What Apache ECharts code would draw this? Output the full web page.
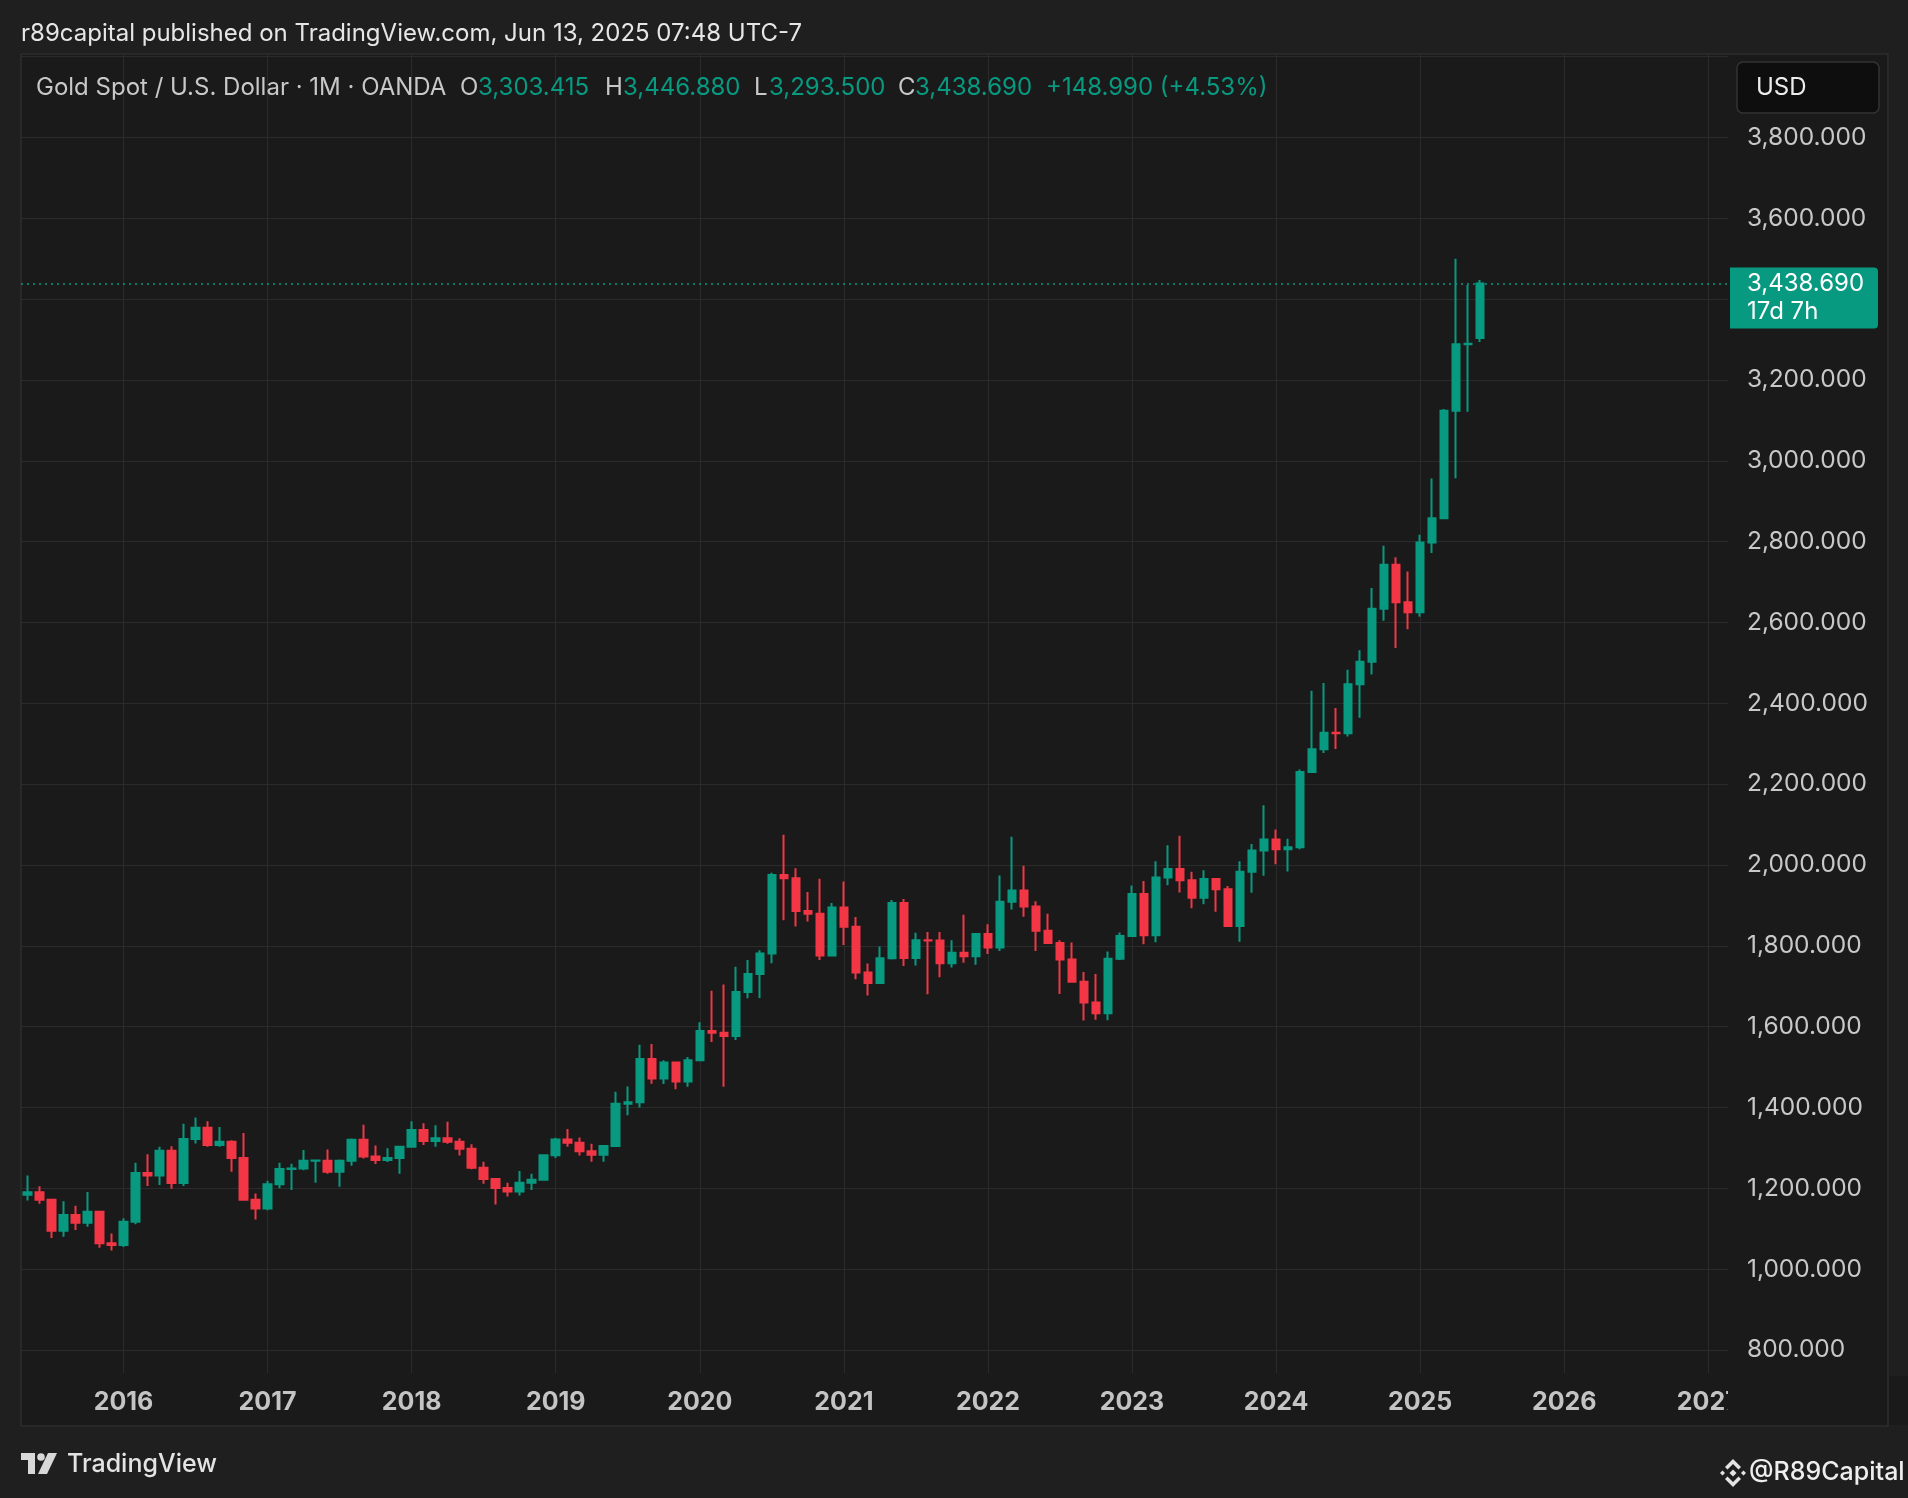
<!DOCTYPE html>
<html>
<head>
<meta charset="utf-8">
<script src="https://cdn.jsdelivr.net/npm/echarts@6/dist/echarts.min.js"></script>
<style>
html,body{margin:0;padding:0;background:#1e1e1e;}
#c{width:1908px;height:1498px;}
</style>
</head>
<body>
<div id="c"></div>
<script>
// ---- Data (monthly OHLC, Gold Spot / USD, OANDA) ----
const months = [
  '2015-05','2015-06','2015-07','2015-08','2015-09','2015-10','2015-11','2015-12',
  '2016-01','2016-02','2016-03','2016-04','2016-05','2016-06','2016-07','2016-08','2016-09','2016-10','2016-11','2016-12',
  '2017-01','2017-02','2017-03','2017-04','2017-05','2017-06','2017-07','2017-08','2017-09','2017-10','2017-11','2017-12',
  '2018-01','2018-02','2018-03','2018-04','2018-05','2018-06','2018-07','2018-08','2018-09','2018-10','2018-11','2018-12',
  '2019-01','2019-02','2019-03','2019-04','2019-05','2019-06','2019-07','2019-08','2019-09','2019-10','2019-11','2019-12',
  '2020-01','2020-02','2020-03','2020-04','2020-05','2020-06','2020-07','2020-08','2020-09','2020-10','2020-11','2020-12',
  '2021-01','2021-02','2021-03','2021-04','2021-05','2021-06','2021-07','2021-08','2021-09','2021-10','2021-11','2021-12',
  '2022-01','2022-02','2022-03','2022-04','2022-05','2022-06','2022-07','2022-08','2022-09','2022-10','2022-11','2022-12',
  '2023-01','2023-02','2023-03','2023-04','2023-05','2023-06','2023-07','2023-08','2023-09','2023-10','2023-11','2023-12',
  '2024-01','2024-02','2024-03','2024-04','2024-05','2024-06','2024-07','2024-08','2024-09','2024-10','2024-11','2024-12',
  '2025-01','2025-02','2025-03','2025-04','2025-05','2025-06'
];
const open = [
  1184,1190,1172,1095,1134,1115,1142,1064,
  1060,1117,1238,1232,1293,1213,1322,1350,1307,1315,1275,1172,
  1150,1210,1248,1249,1268,1268,1241,1268,1320,1279,1270,1275,
  1303,1344,1317,1324,1315,1298,1251,1223,1201,1192,1214,1221,
  1282,1321,1313,1292,1283,1305,1409,1413,1520,1472,1511,1464,
  1517,1589,1585,1577,1686,1730,1781,1975,1967,1886,1879,1776,
  1895,1847,1734,1708,1769,1906,1770,1814,1813,1757,1783,1774,
  1829,1796,1909,1937,1897,1837,1807,1766,1711,1660,1633,1768,
  1824,1928,1826,1969,1990,1962,1919,1965,1940,1849,1983,2036,
  2063,2039,2044,2230,2286,2327,2326,2447,2503,2634,2743,2650,
  2625,2798,2858,3124,3288.5,3303.415
];
const high = [
  1232,1205,1173,1168,1157,1191,1143,1088,
  1126,1263,1284,1303,1304,1360,1375,1366,1352,1319,1337,1187,
  1219,1263,1261,1295,1270,1296,1271,1323,1357,1306,1299,1305,
  1366,1361,1356,1365,1324,1309,1266,1224,1214,1243,1236,1284,
  1325,1347,1326,1310,1305,1439,1452,1555,1557,1517,1514,1525,
  1611,1689,1704,1748,1765,1789,1981,2075,1992,1933,1966,1906,
  1959,1871,1756,1798,1913,1916,1832,1834,1834,1814,1877,1831,
  1853,1974,2070,1998,1910,1879,1814,1808,1735,1730,1786,1833,
  1949,1960,2009,2049,2072,1983,1987,1966,1948,2009,2052,2148,
  2088,2065,2236,2431,2450,2388,2483,2531,2685,2790,2761,2726,
  2817,2956,3128,3500,3435,3446.88
];
const low = [
  1170,1162,1077,1080,1097,1105,1053,1046,
  1055,1111,1206,1208,1199,1206,1311,1303,1303,1241,1171,1123,
  1146,1200,1196,1245,1214,1236,1204,1256,1274,1260,1265,1236,
  1302,1307,1303,1310,1281,1247,1211,1160,1180,1182,1196,1221,
  1275,1303,1281,1266,1266,1303,1381,1400,1459,1458,1445,1451,
  1517,1562,1451,1567,1670,1671,1757,1863,1848,1860,1765,1776,
  1802,1717,1677,1706,1766,1750,1751,1680,1722,1746,1758,1753,
  1780,1787,1890,1872,1787,1805,1681,1709,1615,1617,1616,1765,
  1823,1804,1809,1950,1932,1893,1903,1884,1847,1810,1931,1973,
  2002,1984,2039,2228,2277,2287,2318,2364,2471,2604,2537,2583,
  2614,2772,2855,2957,3121,3293.5
];
const close = [
  1190,1172,1095,1134,1115,1142,1064,1060,
  1117,1238,1232,1293,1213,1322,1350,1307,1315,1275,1172,1150,
  1210,1248,1249,1268,1269,1241,1268,1320,1279,1270,1275,1303,
  1344,1317,1324,1315,1298,1251,1223,1201,1192,1214,1221,1282,
  1321,1313,1292,1283,1305,1409,1413,1520,1472,1511,1464,1517,
  1589,1585,1577,1686,1730,1781,1975,1967,1886,1879,1776,1895,
  1847,1734,1708,1769,1906,1770,1814,1813,1757,1783,1774,1829,
  1796,1909,1937,1897,1837,1807,1766,1711,1660,1633,1768,1824,
  1928,1826,1969,1990,1962,1919,1965,1940,1849,1983,2036,2063,
  2039,2044,2230,2286,2327,2326,2447,2503,2634,2743,2650,2625,
  2798,2858,3124,3288.5,3289.7,3438.69
];
const yearLabels = [2016,2017,2018,2019,2020,2021,2022,2023,2024,2025,2026,2027];
const priceLabels = [800,1000,1200,1400,1600,1800,2000,2200,2400,2600,2800,3000,3200,3400,3600,3800];
const priceGrid = [800,1000,1200,1400,1600,1800,2000,2200,2400,2600,2800,3000,3200,3400,3600,3800,4000];

// ---- helpers ----
const BASE_YEAR = 2015;
const monthPos = m => { const [y, mo] = m.split('-').map(Number); return (y - BASE_YEAR) * 12 + (mo - 1); };
const yearPos = yearLabels.map(y => (y - BASE_YEAR) * 12);
const fmt = v => Number(v).toLocaleString('en-US', {minimumFractionDigits: 3, maximumFractionDigits: 3});

const candles = months.map((m, i) => [monthPos(m), open[i], close[i], low[i], high[i]]);
const n = months.length;
const lastO = open[n-1], lastH = high[n-1], lastL = low[n-1], lastC = close[n-1];
const chg = lastC - close[n-2];
const chgPct = chg / close[n-2] * 100;

const GREEN = '#089981', RED = '#f23645';
const FONT = 'Inter, "Noto Sans", Roboto, sans-serif';

const chart = echarts.init(document.getElementById('c'), null, {renderer: 'canvas'});

const legendY = 87.5;
const txt = (text, x, y, fill, size, weight) => ({
  type: 'text', z: 20,
  style: {text, x, y, fill, font: (weight || 'normal') + ' ' + size + 'px ' + FONT, verticalAlign: 'middle', align: 'left'}
});

const option = {
  backgroundColor: '#1f1f1f',
  animation: false,
  textStyle: {fontFamily: FONT},
  grid: {left: 21, right: 180, top: 54, bottom: 125, show: false, containLabel: false},
  xAxis: {
    type: 'value', min: 3.463, max: 145.64,
    axisLine: {show: false},
    axisTick: {show: false, customValues: yearPos},
    splitLine: {show: true, lineStyle: {color: '#2b2b2b', width: 1}},
    axisLabel: {
      customValues: yearPos,
      formatter: v => String(BASE_YEAR + Math.round(v) / 12),
      color: '#c4c4c4', fontSize: 25, fontWeight: 700, fontFamily: FONT, margin: 17
    }
  },
  yAxis: {
    type: 'value', position: 'right', min: 743.1, max: 4006.3,
    axisLine: {show: false},
    axisTick: {show: false, customValues: priceGrid},
    splitLine: {show: true, lineStyle: {color: '#2b2b2b', width: 1}},
    axisLabel: {
      customValues: priceLabels,
      formatter: v => fmt(v),
      color: '#c8c8c8', fontSize: 24.5, fontFamily: FONT, margin: 19,
      padding: [2, 0, 0, 0]
    }
  },
  series: [{
    type: 'candlestick',
    data: candles,
    encode: {x: 0, y: [1, 2, 3, 4]},
    barWidth: 8,
    itemStyle: {color: GREEN, color0: RED, borderColor: GREEN, borderColor0: RED, borderWidth: 2},
    markLine: {
      silent: true, animation: false,
      symbol: ['none', 'none'],
      lineStyle: {color: GREEN, type: [2, 4], width: 1.5},
      label: {
        show: true, position: 'end', distance: 2,
        formatter: () => fmt(lastC) + '\n17d 7h',
        backgroundColor: GREEN, color: '#ffffff',
        fontSize: 24, fontFamily: FONT, lineHeight: 28,
        padding: [2, 12, 3, 17], width: 119, align: 'left',
        borderRadius: [0, 4, 4, 0], offset: [0, 14.5]
      },
      data: [{yAxis: lastC}]
    }
  }],
  graphic: [
    // panel background + frame
    {type: 'rect', z: -10, silent: true, shape: {x: 21, y: 54, width: 1867, height: 1372},
     style: {fill: '#1a1a1a', stroke: '#2e2e2e', lineWidth: 1.5}},
    // cover part of time axis under the price scale (clips "2027")
    {type: 'rect', z: 50, silent: true, shape: {x: 1728, y: 1376, width: 1159, height: 49},
     style: {fill: '#1a1a1a'}},
    {type: 'line', z: 51, silent: true, shape: {x1: 1888, y1: 1376, x2: 1888, y2: 1426},
     style: {stroke: '#2e2e2e', lineWidth: 1.5}},
    // header
    txt('r89capital published on TradingView.com, Jun 13, 2025 07:48 UTC-7', 21, 33.5, '#e6e6e6', 24),
    // legend
    txt('Gold Spot / U.S. Dollar · 1M · OANDA', 36, legendY, '#c8c8c8', 24),
    txt('O', 460, legendY, '#c8c8c8', 24),
    txt(fmt(lastO), 478, legendY, GREEN, 24),
    txt('H', 605, legendY, '#c8c8c8', 24),
    txt(fmt(lastH), 623, legendY, GREEN, 24),
    txt('L', 754, legendY, '#c8c8c8', 24),
    txt(fmt(lastL), 769, legendY, GREEN, 24),
    txt('C', 898, legendY, '#c8c8c8', 24),
    txt(fmt(lastC), 915, legendY, GREEN, 24),
    txt((chg >= 0 ? '+' : '') + fmt(chg) + ' (' + (chgPct >= 0 ? '+' : '') + chgPct.toFixed(2) + '%)', 1046, legendY, GREEN, 24),
    // USD box
    {type: 'rect', z: 20, silent: true, shape: {x: 1737, y: 62, width: 142, height: 51, r: 6},
     style: {fill: '#0e0e0e', stroke: '#333333', lineWidth: 1.5}},
    txt('USD', 1756, 88, '#ececec', 24),
    // TradingView logo
    {type: 'polygon', z: 20, silent: true, shape: {points: [[21,1453],[35,1453],[35,1474],[28,1474],[28,1460],[21,1460]]}, style: {fill: '#d8d8d8'}},
    {type: 'circle', z: 20, silent: true, shape: {cx: 41, cy: 1457, r: 3.8}, style: {fill: '#d8d8d8'}},
    {type: 'polygon', z: 20, silent: true, shape: {points: [[48,1453],[57,1453],[47,1474],[38,1474]]}, style: {fill: '#d8d8d8'}},
    txt('TradingView', 67, 1464, '#e4e4e4', 25, 500),
    // watermark icon + handle
    {type: 'polygon', z: 20, silent: true, shape: {points: [[1733,1459],[1741,1467],[1738.5,1469.5],[1733,1464],[1727.5,1469.5],[1725,1467]]}, style: {fill: '#e4e4e4'}},
    {type: 'polygon', z: 20, silent: true, shape: {points: [[1733,1487],[1741,1479],[1738.5,1476.5],[1733,1482],[1727.5,1476.5],[1725,1479]]}, style: {fill: '#e4e4e4'}},
    {type: 'polygon', z: 20, silent: true, shape: {points: [[1733,1469.5],[1736.5,1473],[1733,1476.5],[1729.5,1473]]}, style: {fill: '#e4e4e4'}},
    {type: 'polygon', z: 20, silent: true, shape: {points: [[1722.5,1470.5],[1725,1473],[1722.5,1475.5],[1720,1473]]}, style: {fill: '#e4e4e4'}},
    {type: 'polygon', z: 20, silent: true, shape: {points: [[1743.5,1470.5],[1746,1473],[1743.5,1475.5],[1741,1473]]}, style: {fill: '#e4e4e4'}},
    txt('@R89Capital', 1749, 1472, '#eeeeee', 25, 500)
  ]
};
chart.setOption(option);
</script>
</body>
</html>
